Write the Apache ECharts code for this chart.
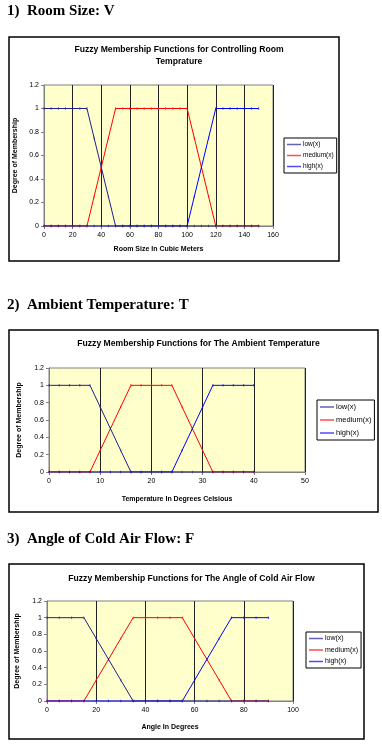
<!DOCTYPE html>
<html><head><meta charset="utf-8">
<script src="https://cdn.jsdelivr.net/npm/echarts@6/dist/echarts.min.js"></script>
<style>html,body{margin:0;padding:0;background:#fff}#c{width:382px;height:748px}</style>
</head><body><div id="c"></div>
<script>
// Chart 1: Room size
const x1 = [0,5,10,15,20,25,30,35,40,45,50,55,60,65,70,75,80,85,90,95,100,105,110,115,120,125,130,135,140,145,150];
const low1 = [1,1,1,1,1,1,1,0.75,0.5,0.25,0,0,0,0,0,0,0,0,0,0,0,0,0,0,0,0,0,0,0,0,0];
const med1 = [0,0,0,0,0,0,0,0.25,0.5,0.75,1,1,1,1,1,1,1,1,1,1,1,0.75,0.5,0.25,0,0,0,0,0,0,0];
const high1 = [0,0,0,0,0,0,0,0,0,0,0,0,0,0,0,0,0,0,0,0,0,0.25,0.5,0.75,1,1,1,1,1,1,1];
// Chart 2: Ambient temperature
const x2 = [0,2,4,6,8,10,12,14,16,18,20,22,24,26,28,30,32,34,36,38,40];
const low2 = [1,1,1,1,1,0.75,0.5,0.25,0,0,0,0,0,0,0,0,0,0,0,0,0];
const med2 = [0,0,0,0,0,0.25,0.5,0.75,1,1,1,1,1,0.75,0.5,0.25,0,0,0,0,0];
const high2 = [0,0,0,0,0,0,0,0,0,0,0,0,0,0.25,0.5,0.75,1,1,1,1,1];
// Chart 3: Angle of cold air flow
const x3 = [0,5,10,15,20,25,30,35,40,45,50,55,60,65,70,75,80,85,90];
const low3 = [1,1,1,1,0.75,0.5,0.25,0,0,0,0,0,0,0,0,0,0,0,0];
const med3 = [0,0,0,0,0.25,0.5,0.75,1,1,1,1,1,0.75,0.5,0.25,0,0,0,0];
const high3 = [0,0,0,0,0,0,0,0,0,0,0,0,0.25,0.5,0.75,1,1,1,1];

const seriesNames = ['low(x)','medium(x)','high(x)'];
const seriesColors = ['#1f1f8f','#ff0000','#0000ff'];
const headings = ['1)  Room Size: V','2)  Ambient Temperature: T','3)  Angle of Cold Air Flow: F'];
const chartTitles = ['Fuzzy Membership Functions for Controlling Room\nTemprature','Fuzzy Membership Functions for The Ambient Temperature','Fuzzy Membership Functions for The Angle of Cold Air Flow'];
const xNames = ['Room Size In Cubic Meters','Temperature In Degrees Celsious','Angle In Degrees'];
const yName = 'Degree of Membership';
const xMax = [160,50,100];
const xInterval = [20,10,20];

const layout = [
  {box:[9,37,330,224], head:12, grid:{left:44,top:85,width:229,height:141}, titleTop:39, legend:{left:284,top:138,gap:4,fs:6.5,pad:[3,3,3,3]}, yGap:23, xGap:20},
  {box:[9,330,369,182], head:306, grid:{left:49,top:368,width:256,height:104}, titleTop:333, legend:{left:317,top:400,gap:5,fs:7.5,pad:[3,3,3,3]}, yGap:26, xGap:24},
  {box:[9,564,355,175], head:539.5, grid:{left:47,top:601,width:246,height:100}, titleTop:568, legend:{left:306,top:632,gap:4.5,fs:7,pad:[3,3,3,3]}, yGap:26, xGap:23}
];
const data = [[x1,[low1,med1,high1]],[x2,[low2,med2,high2]],[x3,[low3,med3,high3]]];

const font = '"Liberation Sans", Arial, sans-serif';
const option = {animation:false, title:[], grid:[], xAxis:[], yAxis:[], series:[], legend:[], graphic:[]};
layout.forEach((L,k)=>{
  option.graphic.push({type:'rect', shape:{x:L.box[0],y:L.box[1],width:L.box[2],height:L.box[3]}, style:{fill:'#fff',stroke:'#000',lineWidth:1.5}, z:-10});
  option.graphic.push({type:'text', left:7, top:L.head-8, style:{text:headings[k], font:'bold 15px "Liberation Serif", "Times New Roman", serif', fill:'#000'}});
  option.title.push({text:chartTitles[k], left:L.box[0]+L.box[2]/2, top:L.titleTop, textAlign:'center', textStyle:{fontFamily:font,fontSize:8.6,fontWeight:'bold',color:'#000',lineHeight:12}});
  option.grid.push(Object.assign({show:true, backgroundColor:'#ffffcc', borderColor:'#808080', borderWidth:1}, L.grid));
  option.xAxis.push({type:'value', gridIndex:k, min:0, max:xMax[k], interval:xInterval[k],
    name:xNames[k], nameLocation:'middle', nameGap:L.xGap, nameTextStyle:{fontFamily:font,fontSize:7,fontWeight:'bold',color:'#000'},
    axisLine:{show:true,lineStyle:{color:'#808080'}}, axisTick:{show:true,length:3,lineStyle:{color:'#808080'}},
    axisLabel:{fontFamily:font,fontSize:7,color:'#000',margin:6},
    splitLine:{show:true,lineStyle:{color:'#222',width:1}}});
  option.yAxis.push({type:'value', gridIndex:k, min:0, max:1.2, interval:0.2,
    name:yName, nameLocation:'middle', nameGap:L.yGap, nameTextStyle:{fontFamily:font,fontSize:7,fontWeight:'bold',color:'#000'},
    axisLine:{show:true,lineStyle:{color:'#808080'}}, axisTick:{show:true,length:3,lineStyle:{color:'#808080'}},
    axisLabel:{fontFamily:font,fontSize:7,color:'#000',margin:5},
    splitLine:{show:false}});
  const xs = data[k][0];
  data[k][1].forEach((ys,j)=>{
    option.series.push({type:'line', name:seriesNames[j], xAxisIndex:k, yAxisIndex:k,
      data: xs.map((x,i)=>[x,ys[i]]), symbol:'rect', symbolSize:[1,2.5], showSymbol:true,
      lineStyle:{color:seriesColors[j],width:1}, itemStyle:{color:seriesColors[j], opacity:0.7}, z:3+ (j===0?1:0)});
  });
  option.legend.push({orient:'vertical', left:L.legend.left, top:L.legend.top, data:seriesNames,
    icon:'rect', itemWidth:14, itemHeight:1.5, itemGap:L.legend.gap, padding:L.legend.pad,
    borderColor:'#000', borderWidth:1, backgroundColor:'#fff', selectedMode:false,
    textStyle:{fontFamily:font,fontSize:L.legend.fs,color:'#000',padding:[0,0,0,-3]}});
});
const chart = echarts.init(document.getElementById('c'), null, {renderer:'canvas'});
chart.setOption(option);
</script></body></html>
